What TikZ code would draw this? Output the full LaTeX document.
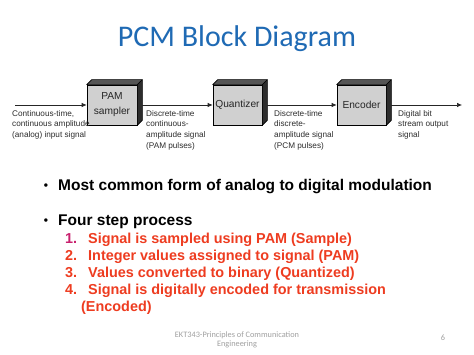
\documentclass[tikz,border=0pt]{standalone}
\usepackage{fontspec}
\setmainfont{Liberation Sans}
\newfontfamily\calfont{Carlito}
\usetikzlibrary{arrows.meta}
\definecolor{titleblue}{RGB}{31,106,180}
\definecolor{itemred}{RGB}{238,60,32}
\definecolor{itemmag}{RGB}{200,32,110}
\definecolor{frontgray}{RGB}{208,208,208}
\definecolor{topgray}{RGB}{85,85,85}
\definecolor{sidegray}{RGB}{45,45,45}
\definecolor{labgray}{RGB}{45,45,45}
\definecolor{footgray}{RGB}{160,160,160}
\tikzset{
  block/.style={draw=black, line width=0.6pt, fill=frontgray, minimum height=40pt, inner sep=0pt,
    font=\fontsize{10.2}{15}\selectfont, text=black!85, align=center},
  sig/.style={draw=black!85, line width=0.7pt, -{Latex[length=5pt,width=4.5pt]}},
  siglabel/.style={anchor=north west, inner sep=0pt, align=left, text=labgray,
    font=\fontsize{8.2}{10.8}\selectfont},
  bulletdot/.style={anchor=base, inner sep=0pt, font=\fontsize{12}{14}\selectfont\bfseries},
  bullettext/.style={anchor=base west, inner sep=0pt, font=\fontsize{15.5}{18}\selectfont\bfseries},
  itemnum/.style={anchor=base west, inner sep=0pt, text=itemred, font=\fontsize{14.4}{17}\selectfont\bfseries},
  itemtext/.style={anchor=base west, inner sep=0pt, text=itemred, font=\fontsize{14.4}{17}\selectfont\bfseries},
  foot/.style={inner sep=0pt, text=footgray, font=\calfont\fontsize{8.3}{9.3}\selectfont, align=center}
}
\begin{document}
\begin{tikzpicture}[x=1pt,y=-1pt]
\useasboundingbox[fill=white] (0,0) rectangle (474,355);

% title
\node[anchor=base, inner sep=0pt, text=titleblue, font=\calfont\fontsize{30}{36}\selectfont] (title) at (237,47) {PCM Block Diagram};

% blocks
\node[block, minimum width=50pt] (pam) at (112,105) {PAM\\sampler};
\node[block, minimum width=49pt] (quant) at (237.5,105) {Quantizer};
\node[block, minimum width=49pt] (enc) at (361.5,105) {Encoder};

\foreach \n in {pam,quant,enc}{
  \filldraw[fill=topgray, draw=black, line width=0.6pt, line join=round]
    (\n.north west) -- ++(5,-5) -- ([shift={(5,-5)}]\n.north east) -- (\n.north east) -- cycle;
  \filldraw[fill=sidegray, draw=black, line width=0.6pt, line join=round]
    (\n.north east) -- ++(5,-5) -- ([shift={(5,-5)}]\n.south east) -- (\n.south east) -- cycle;
}

% connectors
\coordinate (in) at (15,105);
\coordinate (out) at (462,105);
\draw[sig] (in) -- (pam.west);
\draw[sig] ([xshift=5pt]pam.east) -- (quant.west);
\draw[sig] ([xshift=5pt]quant.east) -- (enc.west);
\draw[sig] ([xshift=5pt]enc.east) -- (out);

% signal labels
\node[siglabel] (l1) at (12,110) {Continuous-time,\\continuous amplitude\\(analog) input signal};
\node[siglabel] (l2) at (146,110) {Discrete-time\\continuous-\\amplitude signal\\(PAM pulses)};
\node[siglabel] (l3) at (274,110) {Discrete-time\\discrete-\\amplitude signal\\(PCM pulses)};
\node[siglabel] (l4) at (398,110) {Digital bit\\stream output\\signal};

% bullets
\node[bulletdot] (b1) at (46,190) {\textbullet};
\node[bullettext] (t1) at (58,191) {Most common form of analog to digital modulation};
\node[bulletdot] (b2) at (46,225) {\textbullet};
\node[bullettext] (t2) at (58,226) {Four step process};

\node[itemnum, text=itemmag] (n1) at (65,244) {1.};
\node[itemtext] (i1) at (88,244) {Signal is sampled using PAM (Sample)};
\node[itemnum] (n2) at (65,261) {2.};
\node[itemtext] (i2) at (88,261) {Integer values assigned to signal (PAM)};
\node[itemnum] (n3) at (65,278) {3.};
\node[itemtext] (i3) at (88,278) {Values converted to binary (Quantized)};
\node[itemnum] (n4) at (65,295) {4.};
\node[itemtext] (i4) at (88,295) {Signal is digitally encoded for transmission};
\node[itemtext] (i5) at (81,312) {(Encoded)};

% footer
\node[foot] (f1) at (237,339.5) {EKT343-Principles of Communication\\Engineering};
\node[foot] (f2) at (443,338) {6};
\end{tikzpicture}
\end{document}
